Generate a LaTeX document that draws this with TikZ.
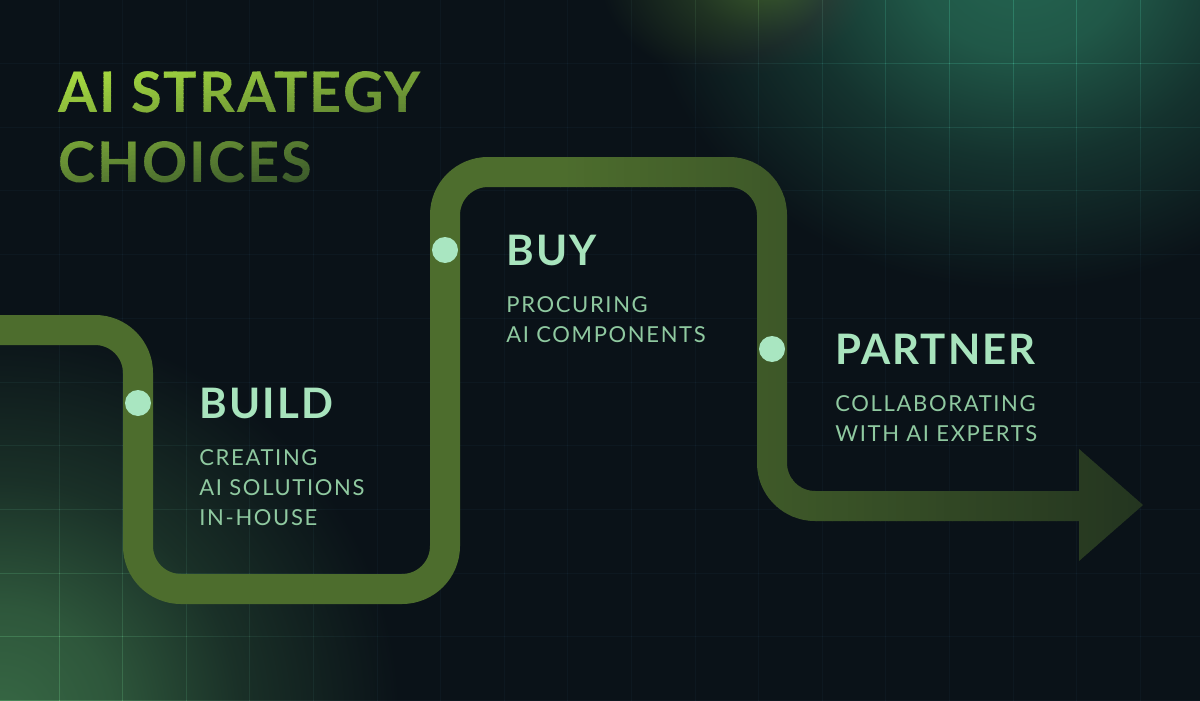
\documentclass[tikz,border=0pt]{standalone}
\usepackage{fontspec}
\setmainfont{Lato}
\usetikzlibrary{positioning}
\definecolor{bgc}{HTML}{0A1218}
\definecolor{glowteal}{HTML}{246450}
\definecolor{glowolive}{HTML}{3A5A2E}
\definecolor{glowgreen}{HTML}{376844}
\definecolor{bandc}{HTML}{4D6D2D}
\definecolor{dotc}{HTML}{A9E6C1}
\definecolor{headc}{HTML}{A8E4BD}
\definecolor{subc}{HTML}{8FC9A0}
\definecolor{titlebright}{HTML}{A4D840}
\definecolor{titledark}{HTML}{33502A}
\pgfdeclareradialshading{glowtr}{\pgfpoint{0bp}{0bp}}{color(0bp)=(glowteal); color(7bp)=(glowteal!85!bgc); color(15bp)=(glowteal!40!bgc); color(25bp)=(bgc); color(50bp)=(bgc)}
\pgfdeclareradialshading{glowol}{\pgfpoint{0bp}{0bp}}{color(0bp)=(glowolive); color(12bp)=(glowolive!45!bgc); color(25bp)=(bgc); color(50bp)=(bgc)}
\pgfdeclareradialshading{glowbl}{\pgfpoint{0bp}{0bp}}{color(0bp)=(glowgreen); color(7bp)=(glowgreen!80!bgc); color(15bp)=(glowgreen!35!bgc); color(25bp)=(bgc); color(50bp)=(bgc)}
\tikzset{
  band/.style={draw=bandc, line width=30pt, rounded corners=43pt},
  dot/.style={circle, fill=dotc, minimum size=26pt, inner sep=0pt},
  head/.style={font=\bfseries\fontsize{42}{42}\selectfont\addfontfeature{LetterSpace=5}, text=headc, inner sep=0pt},
  sub/.style={font=\fontsize{22}{30}\selectfont\addfontfeature{LetterSpace=7.5}, text=subc, inner sep=0pt, align=left},
  title/.style={font=\bfseries\fontsize{56}{56}\selectfont\addfontfeature{LetterSpace=3.5}, inner sep=0pt, anchor=base west},
  gridline/.style={white, opacity=0.35, line width=1pt}
}

\begin{document}
\begin{tikzpicture}[x=1pt, y=-1pt]
\useasboundingbox (0,0) rectangle (1200,701);
\fill[bgc] (0,0) rectangle (1200,701);
\shade[shading=glowbl, blend mode=lighten] (0,720) circle (400);
\shade[shading=glowtr, blend mode=lighten] (1020,-40) ellipse (380 and 330);
\shade[shading=glowol, blend mode=lighten] (770,-20) ellipse (170 and 110);
\begin{scope}[blend mode=overlay]
  \foreach \i in {0,...,18} \draw[gridline] ({-4.6+63.6*\i},0) -- ++(0,701);
  \foreach \j in {0,...,11} \draw[gridline] (0,{-0.2+63.7*\j}) -- ++(1200,0);
\end{scope}

\foreach \k in {0,...,41} {
  \pgfmathsetmacro\ua{80+4*\k}
  \pgfmathsetmacro\p{max(0,min(100,100-0.63*(\ua+2-91)))}
  \begin{scope}
    \clip (0,\ua) -- (500,{\ua-95}) -- (500,{\ua-90.4}) -- (0,{\ua+4.6}) -- cycle;
    \node[title, text=titlebright!\p!titledark] (t1-\k) at (58,113) {AI STRATEGY};
    \node[title, text=titlebright!\p!titledark] (t2-\k) at (58,182) {CHOICES};
  \end{scope}
}

\coordinate (s) at (-20,330);
\coordinate (c1) at (138,330);
\coordinate (c2) at (138,589);
\coordinate (c3) at (445,589);
\coordinate (c4) at (445,172);
\coordinate (c5) at (772,172);
\coordinate (c6) at (772,506);
\coordinate (e) at (1080,506);
\coordinate (h1) at (1079,449);
\coordinate (tip) at (1143,505);
\coordinate (h2) at (1079,561);
\begin{scope}
  \clip (-20,-10) rectangle (560.6,720);
  \draw[band] (s) -- (c1) -- (c2) -- (c3) -- (c4) -- (c5) -- (c6) -- (e);
\end{scope}
\foreach \k in {0,...,73} {
  \pgfmathsetmacro\xa{560+8*\k}
  \pgfmathsetmacro\p{max(38,100-0.1063*(8*\k+4))}
  \begin{scope}
    \clip (\xa,-10) rectangle ({\xa+8.6},720);
    \draw[band, draw=bandc!\p!bgc] (s) -- (c1) -- (c2) -- (c3) -- (c4) -- (c5) -- (c6) -- (e);
    \fill[bandc!\p!bgc] (h1) -- (tip) -- (h2) -- cycle;
  \end{scope}
}

\node[dot] (d1) at (138,403) {};
\node[dot] (d2) at (445,250) {};
\node[dot] (d3) at (772,349) {};

\node[head, right=48pt of d1] (build) {BUILD};
\node[sub, below=31pt of build.south west, anchor=north west] (buildtxt) {CREATING\\AI SOLUTIONS\\IN-HOUSE};
\node[head, right=48pt of d2] (buy) {BUY};
\node[sub, below=31pt of buy.south west, anchor=north west] (buytxt) {PROCURING\\AI COMPONENTS};
\node[head, right=50pt of d3] (partner) {PARTNER};
\node[sub, below=31pt of partner.south west, anchor=north west] (partnertxt) {COLLABORATING\\WITH AI EXPERTS};
\end{tikzpicture}
\end{document}
